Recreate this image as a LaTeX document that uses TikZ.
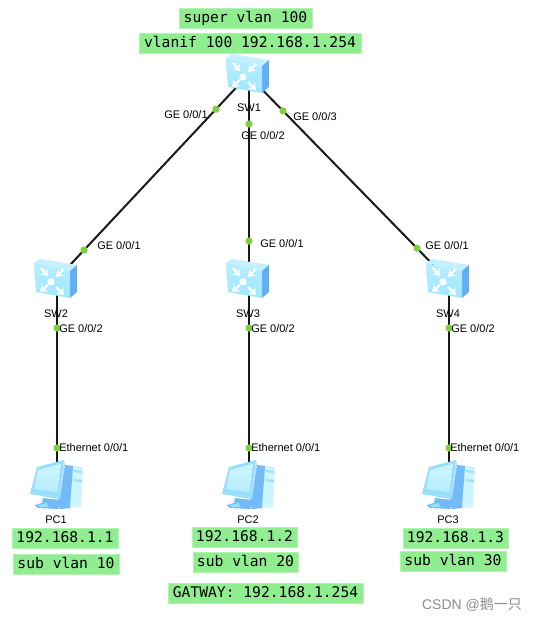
\documentclass[tikz,border=0pt]{standalone}
\usepackage{fontspec}
\setmainfont{Liberation Sans}
\newfontfamily\boxfont{DejaVu Sans Mono}
\newfontfamily\cjkfont{Noto Sans CJK SC}
\usetikzlibrary{arrows.meta}
\definecolor{boxgreen}{HTML}{90EE90}
\definecolor{dotgreen}{HTML}{7FD13B}
\definecolor{swfront}{HTML}{9FE8FF}
\definecolor{swtop}{HTML}{C4F1FF}
\definecolor{swside}{HTML}{62AEF6}
\definecolor{pclight}{HTML}{CDF5FF}
\definecolor{pcmid}{HTML}{96E0FC}
\definecolor{pcblue}{HTML}{72BAF8}
\tikzset{
  x=0.75pt,y=-0.75pt,
  anchorpt/.style={inner sep=0pt,minimum size=0pt,outer sep=0pt},
  link/.style={line width=1.5pt,black!90},
  portdot/.style={circle,fill=dotgreen,inner sep=0pt,minimum size=5.4pt},
  port/.style={font=\fontsize{8.25pt}{9pt}\selectfont,inner sep=0pt,anchor=west},
  devname/.style={font=\fontsize{8.25pt}{9pt}\selectfont,inner sep=0pt},
  tag/.style={fill=boxgreen,draw=boxgreen!70!white,line width=0.4pt,inner sep=0pt,font=\boxfont\fontsize{11pt}{13pt}\selectfont,minimum height=15.2pt,text height=8.3pt,text depth=2pt},
  swarrow/.style={white,line width=1.6pt,-{Stealth[length=5pt,width=7pt]}},
  pics/switch/.style={code={
    \fill[swtop] (-22,-17) -- (-16,-21) -- (21,-15) -- (14,-9) -- cycle;
    \fill[swside] (21,-15) -- (21,12) -- (14,18) -- (14,-9) -- cycle;
    \shade[top color=swfront!75!white,bottom color=swfront] (-22,-17) -- (14,-9) -- (14,18) -- (-20,12) -- cycle;
    \fill[white] (-5,2) circle (3.6);
    \draw[swarrow] (-15,-12) -- (-8,-4);
    \draw[swarrow] (8,-11) -- (0,-3);
    \draw[swarrow] (-8,5) -- (-16,12);
    \draw[swarrow] (0,7) -- (8,15);
  }},
  pics/computer/.style={code={
    \fill[pclight] (8,-19) -- (26,-17) -- (24,23) -- (3,25) -- cycle;
    \fill[pcblue] (8,-19) -- (16,-18) -- (13,24) -- (3,25) -- (1,15) -- cycle;
    \fill[pcmid] (17,-14) -- (25,-13) -- (25,-11) -- (17,-12) -- cycle;
    \fill[pcmid] (17,-5) -- (25,-4) -- (25,-2) -- (17,-3) -- cycle;
    \fill[pcblue] (-14,14) -- (-15,19) -- (-22,21) -- (-19,24) -- (2,25) -- (4,16) -- cycle;
    \fill[pcmid] (-19,21) -- (-10,19) -- (-9,23) -- (-17,23) -- cycle;
    \fill[pcmid] (-20,-17) -- (7,-24) -- (2,15) -- (-27,10) -- cycle;
    \fill[pclight!70!pcblue] (7,-24) -- (8,-20) -- (3,15) -- (2,15) -- cycle;
    \shade[top color=pclight,bottom color=pclight!60!pcmid] (-19,-14) -- (4,-20) -- (0,8) -- (-23,5) -- cycle;
  }}
}
\begin{document}
\begin{tikzpicture}
\useasboundingbox[fill=white] (0,0) rectangle (536,622);
\node[anchorpt] (sw1) at (248,75) {};
\node[anchorpt] (sw2) at (56,280) {};
\node[anchorpt] (sw3) at (248,280) {};
\node[anchorpt] (sw4) at (448,280) {};
\node[anchorpt] (pc1) at (57,484) {};
\node[anchorpt] (pc2) at (249,484) {};
\node[anchorpt] (pc3) at (449,484) {};
\draw[link] (sw1.center) -- node[portdot,pos=0.167]{} node[portdot,pos=0.854]{} (sw2.center);
\draw[link] (sw1.center -| pc2.center) -- node[portdot,pos=0.239]{} node[portdot,pos=0.81]{} (pc2.center |- sw3.center);
\draw[link] (sw1.center) -- node[portdot,pos=0.175]{} node[portdot,pos=0.845]{} (sw4.center);
\draw[link] (pc1.center |- sw2.center) -- (pc1.center);
\draw[link] (pc2.center |- sw3.center) -- (pc2.center);
\draw[link] (pc3.center |- sw4.center) -- (pc3.center);
\node[portdot] at (57,328) {};
\node[portdot] at (57,448) {};
\node[portdot] at (249,328) {};
\node[portdot] at (249,448) {};
\node[portdot] at (449,328) {};
\node[portdot] at (449,448) {};
\pic at (sw1) {switch};
\pic at (sw2) {switch};
\pic at (sw3) {switch};
\pic at (sw4) {switch};
\pic at (pc1) {computer};
\pic at (pc2) {computer};
\pic at (pc3) {computer};
\node[devname] (l1) at (249,108) {SW1};
\node[devname] (l2) at (56,314) {SW2};
\node[devname] (l3) at (248,314) {SW3};
\node[devname] (l4) at (448,314) {SW4};
\node[devname] (l5) at (56,519.5) {PC1};
\node[devname] (l6) at (248,519.5) {PC2};
\node[devname] (l7) at (448,519.5) {PC3};
\node[port] (p1) at (164,115) {GE 0/0/1};
\node[port] (p2) at (241,136) {GE 0/0/2};
\node[port] (p3) at (293,117) {GE 0/0/3};
\node[port] (p4) at (97,246) {GE 0/0/1};
\node[port] (p5) at (260,244) {GE 0/0/1};
\node[port] (p6) at (425,246) {GE 0/0/1};
\node[port] (p7) at (59,329) {GE 0/0/2};
\node[port] (p8) at (251,329) {GE 0/0/2};
\node[port] (p9) at (451,329) {GE 0/0/2};
\node[port] (e1) at (59,448) {Ethernet 0/0/1};
\node[port] (e2) at (251,448) {Ethernet 0/0/1};
\node[port] (e3) at (450,448) {Ethernet 0/0/1};
\node[tag,minimum width=99.5pt] (t1) at (245.5,18.5) {super vlan 100};
\node[tag,minimum width=166.5pt] (t2) at (250,43.5) {vlanif 100 192.168.1.254};
\node[tag,minimum width=79.5pt] (t3) at (65,538.5) {192.168.1.1};
\node[tag,minimum width=79.5pt] (t4) at (66,564.5) {sub vlan 10};
\node[tag,minimum width=78.8pt] (t5) at (244.5,537.5) {192.168.1.2};
\node[tag,minimum width=78.8pt] (t6) at (245.5,562) {sub vlan 20};
\node[tag,minimum width=146pt] (t7) at (265.5,593.5) {GATWAY: 192.168.1.254};
\node[tag,minimum width=78.8pt] (t8) at (455.5,538.5) {192.168.1.3};
\node[tag,minimum width=79.5pt] (t9) at (453,561.5) {sub vlan 30};
\node[font=\fontsize{10.5pt}{12pt}\selectfont,text=black!45,inner sep=0pt] (wm) at (472,605) {CSDN @{\cjkfont 鹅一只}};
\end{tikzpicture}
\end{document}
